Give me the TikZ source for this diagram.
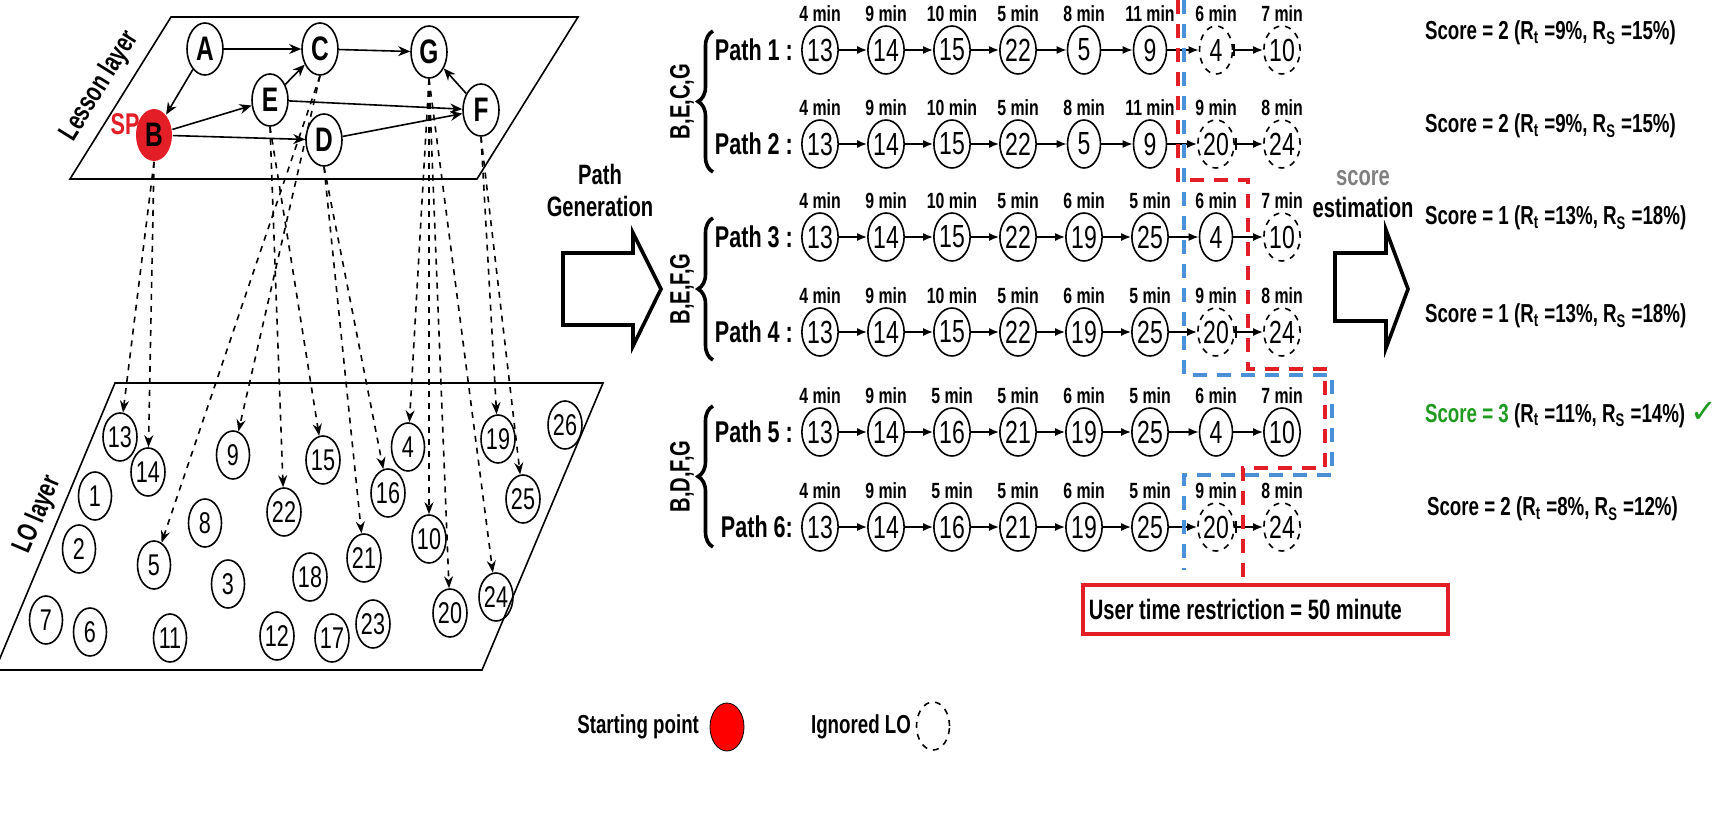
\documentclass[tikz,border=0pt]{standalone}
\usepackage{fontspec}
\setmainfont{Liberation Sans}[FakeStretch=0.72]
\newfontfamily\djv{DejaVu Sans}
\usetikzlibrary{shapes.geometric,arrows.meta,decorations.pathreplacing}
\definecolor{myred}{HTML}{E41E26}
\definecolor{myblue}{HTML}{4A90D9}
\definecolor{mygreen}{HTML}{1E9A1E}
\begin{document}
\begin{tikzpicture}[x=0.5pt,y=-0.5pt,
  les/.style={ellipse,draw,thick,minimum width=18pt,minimum height=26pt,inner sep=0pt,font=\fontsize{17}{17}\selectfont\bfseries},
  lo/.style={ellipse,draw,thick,minimum width=16.5pt,minimum height=24pt,inner sep=0pt,font=\fontsize{16}{16}\selectfont},
  ig/.style={lo,dashed},
  ln/.style={-{Stealth[length=6pt,width=5pt]},thick},
  dsh/.style={-{Stealth[length=6pt,width=4.5pt]},dashed,thick},
  arrn/.style={-{Latex[length=5pt,width=4pt]},thick},
  arrb/.style={{Bar[width=6pt]}-{Latex[length=5pt,width=4pt]},thick},
  minlab/.style={font=\fontsize{11}{11}\selectfont\bfseries},
  bold/.style={font=\fontsize{14}{16}\selectfont\bfseries},
  score/.style={anchor=west,font=\fontsize{13}{14}\selectfont\bfseries},
  rbox/.style={myred,line width=1.6pt,dash pattern=on 7pt off 5pt},
  bbox/.style={myblue,line width=1.6pt,dash pattern=on 7pt off 5pt}]
\useasboundingbox (0,0) rectangle (1718,819);

% ---- lesson layer
\draw[thick] (70,179) -- (171,17) -- (578,17) -- (477,179) -- cycle;
\node[bold,rotate=58] at (100,86) {Lesson layer};
\node[les] (A) at (205,49) {A};
\node[les] (C) at (320,49) {C};
\node[les] (G) at (429,52) {G};
\node[les] (E) at (270,100) {E};
\node[les] (F) at (481,110) {F};
\node[les,draw=none,fill=myred] (B) at (154,135) {B};
\node[les] (D) at (324,140) {D};
\node[myred,font=\fontsize{15}{15}\selectfont\bfseries] (sp) at (125,124) {SP};
\draw[ln] (A) -- (C);
\draw[ln] (C) -- (G);
\draw[ln] (A) -- (B);
\draw[ln] (E) -- (C);
\draw[ln] (B) -- (E);
\draw[ln] (B) -- (D);
\draw[ln] (E) -- (F);
\draw[ln] (D) -- (F);
\draw[ln] (F) -- (G);

% ---- LO layer
\draw[thick] (-5,670) -- (115,383) -- (603,383) -- (482,670) -- cycle;
\node[bold,rotate=67] at (38,515) {LO layer};
\foreach \n/\x/\y in {13/120/437,14/148/472,1/95/496,2/79/549,9/233/455,15/323/460,
  22/284/512,8/205/523,5/154/565,3/228/584,18/310/577,21/364/558,16/388/493,
  4/408/447,10/429/539,19/498/439,25/523/499,20/450/613,24/496/597,26/565/425,
  7/46/620,6/90/632,11/170/638,12/277/636,17/332/638,23/373/624}
  \node[lo,font=\fontsize{15}{15}\selectfont] (n\n) at (\x,\y) {\n};

\draw[dsh] (B.south) -- (n13);
\draw[dsh] (B.south) -- (n14);
\draw[dsh] (C.south) -- (n5);
\draw[dsh] (C.south) -- (n9);
\draw[dsh] (E.south) -- (n22);
\draw[dsh] (E.south) -- (n15);
\draw[dsh] (D.south) -- (n16);
\draw[dsh] (D.south) -- (n21);
\draw[dsh] (G.south) -- (n4);
\draw[dsh] (G.south) -- (n10);
\draw[dsh] (G.south) -- (n20);
\draw[dsh] (G.south) -- (n24);
\draw[dsh] (F.south) -- (n19);
\draw[dsh] (F.south) -- (n25);

% ---- path generation arrow
\node[bold,align=center] (pg) at (600,190) {Path\\Generation};
\draw[line width=1.8pt] (563,253) -- (633,253) -- (633,233) -- (661,289) -- (633,346) -- (633,325) -- (563,325) -- cycle;

% ---- braces and groups
\foreach \a/\b/\t in {31/172/{B,E,C,G},218/360/{B,E,F,G},406/547/{B,D,F,G}} {
  \draw[line width=1.8pt,decorate,decoration={brace,amplitude=7.5pt}] (713,\b) -- (713,\a);
  \node[bold,rotate=90] at (682,{(\a+\b)/2}) {\t};
}

% ---- paths
\foreach \r/\y/\lst in {
  1/50/{13/4/lo/n,14/9/lo/n,15/10/lo/n,22/5/lo/n,5/8/lo/n,9/11/lo/n,4/6/ig/n,10/7/ig/b},
  2/144/{13/4/lo/n,14/9/lo/n,15/10/lo/n,22/5/lo/n,5/8/lo/n,9/11/lo/n,20/9/ig/n,24/8/ig/b},
  3/237/{13/4/lo/n,14/9/lo/n,15/10/lo/n,22/5/lo/n,19/6/lo/n,25/5/lo/n,4/6/lo/n,10/7/ig/n},
  4/332/{13/4/lo/n,14/9/lo/n,15/10/lo/n,22/5/lo/n,19/6/lo/n,25/5/lo/n,20/9/ig/n,24/8/ig/b},
  5/432/{13/4/lo/n,14/9/lo/n,16/5/lo/n,21/5/lo/n,19/6/lo/n,25/5/lo/n,4/6/lo/n,10/7/lo/n},
  6/527/{13/4/lo/n,14/9/lo/n,16/5/lo/n,21/5/lo/n,19/6/lo/n,25/5/lo/n,20/9/ig/n,24/8/ig/b}} {
  \node[bold,anchor=east,font=\fontsize{15}{15}\selectfont\bfseries] (p\r) at (800,\y) {Path \r\ifnum\r<6\ \fi:};
  \foreach \n/\m/\s/\a [count=\c] in \lst {
    \pgfmathsetmacro\xx{820+66*(\c-1)}
    \node[\s] (r\r c\c) at (\xx,\y) {\n};
    \node[minlab] at (\xx,\y-36) {\m\ min};
    \ifnum\c>1
      \pgfmathtruncatemacro\pc{\c-1}
      \draw[arr\a] (r\r c\pc) -- (r\r c\c);
    \fi
  }
}

% ---- time restriction boxes
\draw[rbox] (1178,0) -- (1178,180) -- (1248,180) -- (1248,369) -- (1325,369) -- (1325,468) -- (1243,468) -- (1243,582);
\draw[bbox] (1184,0) -- (1184,375) -- (1332,375) -- (1332,475) -- (1184,475) -- (1184,570);
\node[draw=myred,line width=1.8pt,minimum width=165pt,minimum height=24.5pt,anchor=north west,
  font=\fontsize{14}{14}\selectfont\bfseries,inner xsep=3pt] (ut) at (1081,583) {User time restriction = 50 minute\hspace*{20pt}};

% ---- score estimation
\node[bold,gray] (se1) at (1363,178) {score};
\node[bold] (se2) at (1363,207) {estimation};
\draw[line width=1.8pt] (1335,253) -- (1386,253) -- (1386,230) -- (1408,289) -- (1386,348) -- (1386,321) -- (1335,321) -- cycle;

\node[score] (s1) at (1418,33) {Score = 2 (R\textsubscript{t} =9\%, R\textsubscript{S} =15\%)};
\node[score] (s2) at (1418,126) {Score = 2 (R\textsubscript{t} =9\%, R\textsubscript{S} =15\%)};
\node[score] (s3) at (1418,218) {Score = 1 (R\textsubscript{t} =13\%, R\textsubscript{S} =18\%)};
\node[score] (s4) at (1418,316) {Score = 1 (R\textsubscript{t} =13\%, R\textsubscript{S} =18\%)};
\node[score] (s5) at (1418,415) {\textcolor{mygreen}{Score = 3} (R\textsubscript{t} =11\%, R\textsubscript{S} =14\%) \textcolor{mygreen}{\djv\bfseries\fontsize{16}{16}\selectfont ✓}};
\node[score] (s6) at (1420,509) {Score = 2 (R\textsubscript{t} =8\%, R\textsubscript{S} =12\%)};

% ---- legend
\node[anchor=east,font=\fontsize{13}{13}\selectfont\bfseries] (l1) at (706,727) {Starting point};
\node[ellipse,draw,fill=red,minimum width=17pt,minimum height=24pt] (l1c) at (727,727) {};
\node[anchor=west,font=\fontsize{13}{13}\selectfont\bfseries] (l2) at (804,727) {Ignored LO};
\node[ig,minimum width=16.5pt,minimum height=24pt] (l2c) at (933,726) {};
\end{tikzpicture}
\end{document}
